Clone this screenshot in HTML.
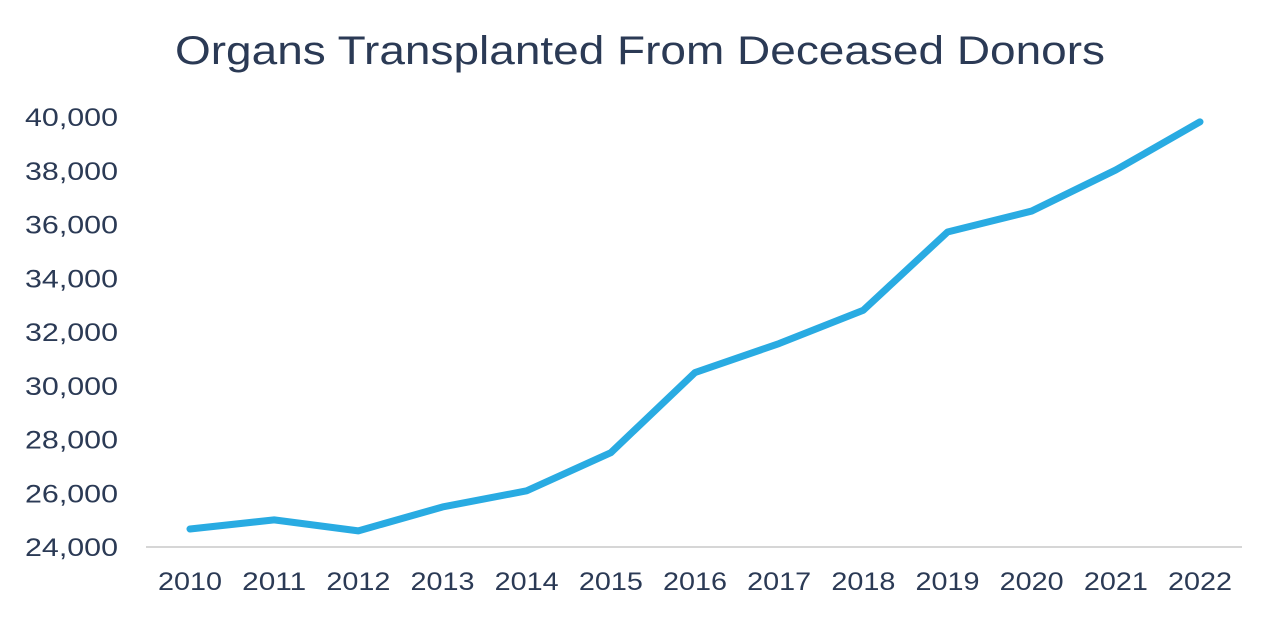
<!DOCTYPE html>
<html><head><meta charset="utf-8"><style>
body{margin:0;background:#fff;}
svg{display:block;font-family:"Liberation Sans",sans-serif;}
</style></head><body>
<svg id="chart" width="1280" height="620" viewBox="0 0 1280 620">
<text x="175" y="64" textLength="930" lengthAdjust="spacingAndGlyphs" font-size="40" fill="#2b3a55">Organs Transplanted From Deceased Donors</text>
<line x1="146" y1="547" x2="1242" y2="547" stroke="#d6d6d6" stroke-width="2"/>
<g id="yt"></g><g id="xt"></g>
<polyline id="ln" fill="none" stroke="#29abe2" stroke-width="7" stroke-linejoin="round" stroke-linecap="round"/>
</svg>
<script>
const years=["2010","2011","2012","2013","2014","2015","2016","2017","2018","2019","2020","2021","2022"];
const values=[24670,25010,24600,25490,26090,27510,30490,31570,32810,35720,36500,38030,39820];
const yTicks=[24000,26000,28000,30000,32000,34000,36000,38000,40000];
const ns="http://www.w3.org/2000/svg";
function x(i){return 190+i*(1200-190)/12;}
function y(v){return 547-(v-24000)*(547-117)/16000;}
const yt=document.getElementById('yt');
yTicks.forEach(v=>{const t=document.createElementNS(ns,'text');


t.setAttribute('x',25);t.setAttribute('y',y(v)+9);t.setAttribute('textLength','93');t.setAttribute('lengthAdjust','spacingAndGlyphs');t.setAttribute('font-size','25');t.setAttribute('fill','#2b3a55');t.textContent=v.toLocaleString('en-US');yt.appendChild(t);});
const xt=document.getElementById('xt');
years.forEach((s,i)=>{const t=document.createElementNS(ns,'text');


t.setAttribute('x',x(i)-32);t.setAttribute('y',590);t.setAttribute('textLength','64');t.setAttribute('lengthAdjust','spacingAndGlyphs');t.setAttribute('font-size','25');t.setAttribute('fill','#2b3a55');t.textContent=s;xt.appendChild(t);});
document.getElementById('ln').setAttribute('points',values.map((v,i)=>x(i)+','+y(v)).join(' '));
</script>
</body></html>
